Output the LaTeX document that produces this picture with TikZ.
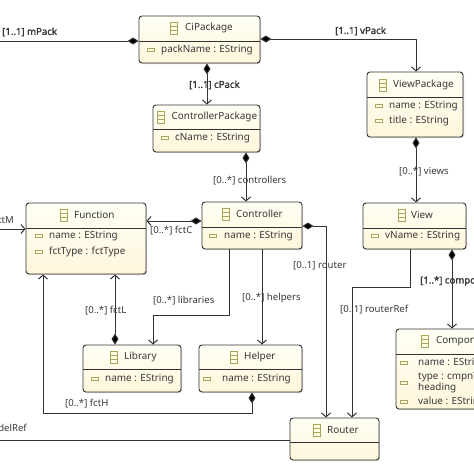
\documentclass[tikz,border=0pt]{standalone}
\usepackage{fontspec}
\setmainfont{Noto Sans}
\newfontfamily\boldlab[FakeBold=1.6]{Noto Sans}
\usetikzlibrary{arrows.meta,shadows}
\definecolor{linec}{HTML}{333333}
\definecolor{textc}{HTML}{383838}
\definecolor{iconc}{HTML}{A9A560}
\tikzset{
  umlbox/.style={draw=linec,line width=.9pt,rounded corners=3pt,inner sep=0pt,
    top color=white!50!yellow!8!white,bottom color=yellow!50!orange!14!white,
    drop shadow={shadow xshift=1pt,shadow yshift=-1pt,opacity=.35,fill=gray}},
  sepline/.style={draw=linec,line width=.9pt},
  title/.style={anchor=west,inner sep=0pt,text=textc,font=\fontsize{9.9}{12}\selectfont},
  attr/.style={anchor=west,inner sep=0pt,text=textc,font=\fontsize{9.9}{12}\selectfont},
  lab/.style={inner sep=0pt,text=textc,font=\fontsize{9.6}{11}\selectfont},
  blab/.style={lab,font=\fontsize{9.6}{11}\boldlab\selectfont},
  conn/.style={draw=linec,line width=1pt},
  comp/.style={conn,{Diamond[fill=black,length=11pt,width=7pt]}-{Straight Barb[length=4pt,width=9pt]}},
  compn/.style={conn,{Diamond[fill=black,length=11pt,width=7pt]}-},
  refc/.style={conn,-{Straight Barb[length=4pt,width=9pt]}},
  clsicon/.pic={\draw[iconc,line width=.7pt,fill=yellow!12!white] (-3.5,-6) rectangle (3.5,6);
    \draw[iconc,line width=.7pt] (-3.5,-2) -- (3.5,-2) (-3.5,2) -- (3.5,2);},
  attricon/.pic={\draw[iconc,line width=.7pt,fill=yellow!12!white] (-3.5,-1.7) rectangle (3.5,1.7);}
}
\newcommand{\umlnode}[6]{%
  \node[umlbox,minimum width={(#4-#2)*1pt},minimum height={(#5-#3)*1pt}] (#1) at ({(#2+#4)/2},{(#3+#5)/2}) {};
  \draw[sepline] (#2,#6) -- (#4,#6);}
\begin{document}
\begin{tikzpicture}[x=1pt,y=-1pt]
\useasboundingbox (0,0) rectangle (474,474);
\fill[white] (0,0) rectangle (474,474);
\clip (0,0) rectangle (474,474);
% boxes
\umlnode{ci}{139}{16}{260}{63}{41}
\umlnode{cp}{153}{105}{260}{152}{129}
\umlnode{fn}{26}{203}{146}{274}{228}
\umlnode{ct}{202}{202}{302}{249}{227}
\umlnode{vp}{367}{72}{463}{137}{97}
\umlnode{vw}{363}{203}{466}{249}{228}
\umlnode{lb}{83}{345}{181}{392}{369}
\umlnode{hp}{199}{345}{302}{392}{369}
\umlnode{rt}{290}{418}{379}{460}{442}
\umlnode{cm}{396}{329}{490}{409}{354}
% icons
\foreach \x/\y in {174/28,161/117,64/215,226/214,383/85,402/215,114/357,234/357,317/430,425/341}
  \pic at (\x,\y) {clsicon};
\foreach \x/\y in {151/50,165/138,39/236,39/252,213/236,379/106,379/121,375/236,95/379,207/379,404/363,404/383,404/402}
  \pic at (\x,\y) {attricon};
% titles
\node[title] (t1) at (185,28) {CiPackage};
\node[title] (t2) at (171.5,117) {ControllerPackage};
\node[title] (t3) at (74,215) {Function};
\node[title] (t4) at (236,214) {Controller};
\node[title] (t5) at (393,85) {ViewPackage};
\node[title] (t6) at (411,215) {View};
\node[title] (t7) at (124,357) {Library};
\node[title] (t8) at (244,357) {Helper};
\node[title] (t9) at (327,430) {Router};
\node[title] (t10) at (436,341) {Component};
% attributes
\node[attr] (a1) at (161,50) {packName : EString};
\node[attr] (a2) at (175,138) {cName : EString};
\node[attr] (a3) at (49,236) {name : EString};
\node[attr] (a4) at (49,252) {fctType : fctType};
\node[attr] (a5) at (224,236) {name : EString};
\node[attr] (a6) at (389,106) {name : EString};
\node[attr] (a7) at (389,121) {title : EString};
\node[attr] (a8) at (385,236) {vName : EString};
\node[attr] (a9) at (105,379) {name : EString};
\node[attr] (a10) at (222,379) {name : EString};
\node[attr] (a11) at (418,363) {name : EString};
\node[attr,align=left] (a12) at (418,383) {type : cmpnType\\[-1pt]heading};
\node[attr] (a13) at (418,402) {value : EString};
% free ends
\coordinate (mEnd) at (0,41);
\coordinate (fEnd) at (0,229);
\coordinate (rEnd) at (0,440);
% connectors
\draw[compn] (mEnd -| ci.west) -- (mEnd);
\draw[comp] ([yshift=.5pt]ci.east) -| ([xshift=1pt]vp.north);
\draw[comp] ([xshift=7.5pt]ci.south) -- ([xshift=.5pt]cp.north);
\draw[comp] ([xshift=39.5pt]cp.south) -- ([xshift=-6pt]ct.north);
\draw[comp] ([yshift=4.5pt]ct.west) -- ([yshift=4.5pt]ct.west -| fn.east);
\draw[refc] (fEnd) -- (fEnd -| fn.west);
\draw[comp] ([xshift=-17pt]lb.north) -- ([xshift=29pt]fn.south);
\draw[comp] ([xshift=1.5pt]hp.south) |- ++(0,21) -| ([xshift=-43pt]fn.south);
\draw[refc] ([xshift=-23pt]ct.south) |- ++(-38,66) -| ([xshift=21pt]lb.north);
\draw[refc] ([xshift=10pt]ct.south) -- ([xshift=11.5pt]hp.north);
\draw[comp] ([yshift=-.5pt]ct.east) -| ([xshift=-8.5pt]rt.north);
\draw[refc] ([xshift=-4.5pt]vw.south) |- ++(-58,38) -| ([xshift=17.5pt]rt.north);
\draw[comp] ([xshift=37.5pt]vw.south) -- ([xshift=9pt]cm.north);
\draw[comp] ([xshift=1pt]vp.south) -- ([xshift=1.5pt]vw.north);
\draw[conn] (rEnd) -- (rEnd -| rt.west);
% labels
\node[blab,anchor=west] (l1) at (2,32) {[1..1] mPack};
\node[blab,anchor=west] (l2) at (189,85) {[1..1] cPack};
\node[blab,anchor=west] (l3) at (335,31) {[1..1] vPack};
\node[blab,anchor=west] (l4) at (420,281) {[1..*] components};
\node[lab,anchor=west] (l5) at (213,181) {[0..*] controllers};
\node[lab,anchor=west] (l6) at (399,172) {[0..*] views};
\node[lab,anchor=west] (l7) at (150,231) {[0..*] fctC};
\node[lab,anchor=east] (l8) at (14,221) {[0..*] fctM};
\node[lab,anchor=west] (l9) at (85,311) {[0..*] fctL};
\node[lab,anchor=west] (l10) at (153,301) {[0..*] libraries};
\node[lab,anchor=west] (l11) at (242,298) {[0..*] helpers};
\node[lab,anchor=west] (l12) at (293,266) {[0..1] router};
\node[lab,anchor=west] (l13) at (340,310) {[0..1] routerRef};
\node[lab,anchor=west] (l14) at (65,404) {[0..*] fctH};
\node[lab,anchor=east] (l15) at (27,429) {[0..1] modelRef};
\end{tikzpicture}
\end{document}
